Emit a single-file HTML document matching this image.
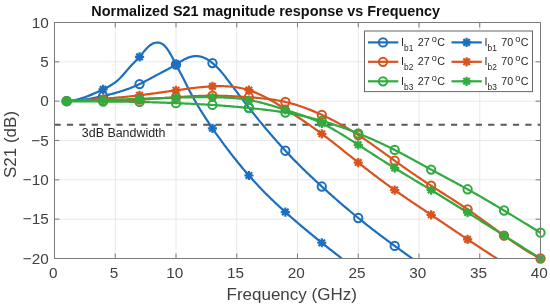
<!DOCTYPE html>
<html lang="en"><head><meta charset="utf-8"><title>Normalized S21 magnitude response vs Frequency</title>
<style>html,body{margin:0;padding:0;background:#fff;}body{width:550px;height:306px;overflow:hidden;}svg{display:block;}</style>
</head><body>
<svg width="550" height="306" viewBox="0 0 550 306" font-family="'Liberation Sans', sans-serif">
<rect width="550" height="306" fill="#ffffff"/>
<path d="M115.25 22.5V258.5M176.00 22.5V258.5M236.75 22.5V258.5M297.50 22.5V258.5M358.25 22.5V258.5M419.00 22.5V258.5M479.75 22.5V258.5M54.5 219.17H540.5M54.5 179.83H540.5M54.5 140.50H540.5M54.5 101.17H540.5M54.5 61.83H540.5" stroke="#e8e8e8" stroke-width="1" fill="none"/>
<defs><clipPath id="c"><rect x="54.5" y="22.5" width="486.0" height="236.5"/></clipPath></defs>
<path d="M54.5 124.77H540.5" stroke="#585858" stroke-width="2.2" stroke-dasharray="6.2 6.19" fill="none"/>
<text x="81.8" y="136.7" font-size="12.45" fill="#262626">3dB Bandwidth</text>
<g clip-path="url(#c)">
<path d="M66.65 101.17L67.86 101.14L69.08 101.11L70.30 101.06L71.51 101.00L72.73 100.93L73.94 100.84L75.16 100.74L76.37 100.64L77.59 100.52L78.80 100.39L80.02 100.25L81.23 100.10L82.45 99.94L83.66 99.77L84.88 99.59L86.09 99.41L87.31 99.21L88.52 99.01L89.74 98.80L90.95 98.58L92.17 98.35L93.38 98.12L94.60 97.88L95.81 97.64L97.03 97.39L98.24 97.13L99.46 96.87L100.67 96.60L101.89 96.33L103.10 96.05L104.32 95.77L105.53 95.49L106.75 95.20L107.96 94.90L109.18 94.60L110.39 94.29L111.61 93.98L112.82 93.66L114.04 93.33L115.25 93.00L116.47 92.66L117.68 92.30L118.90 91.94L120.11 91.57L121.33 91.20L122.54 90.81L123.76 90.41L124.97 90.00L126.19 89.58L127.40 89.14L128.62 88.70L129.83 88.24L131.05 87.77L132.26 87.29L133.48 86.79L134.69 86.28L135.91 85.76L137.12 85.22L138.34 84.67L139.55 84.10L140.77 83.51L141.98 82.91L143.20 82.30L144.41 81.68L145.63 81.04L146.84 80.40L148.06 79.75L149.27 79.10L150.49 78.44L151.70 77.78L152.92 77.12L154.13 76.46L155.35 75.80L156.56 75.15L157.78 74.50L158.99 73.86L160.21 73.22L161.42 72.58L162.64 71.95L163.85 71.31L165.07 70.67L166.28 70.03L167.50 69.38L168.71 68.73L169.93 68.06L171.14 67.38L172.36 66.69L173.57 65.98L174.79 65.25L176.00 64.51L177.22 63.74L178.43 62.97L179.65 62.19L180.86 61.43L182.08 60.69L183.29 59.97L184.51 59.30L185.72 58.69L186.94 58.13L188.15 57.64L189.37 57.21L190.58 56.85L191.80 56.56L193.01 56.34L194.23 56.18L195.44 56.10L196.66 56.09L197.87 56.16L199.09 56.30L200.30 56.51L201.52 56.81L202.73 57.20L203.95 57.66L205.16 58.22L206.38 58.85L207.59 59.57L208.81 60.35L210.02 61.21L211.24 62.12L212.45 63.09L213.67 64.12L214.88 65.20L216.10 66.33L217.31 67.52L218.53 68.78L219.74 70.09L220.96 71.47L222.17 72.91L223.39 74.39L224.60 75.91L225.82 77.47L227.03 79.05L228.25 80.66L229.46 82.27L230.68 83.88L231.89 85.49L233.11 87.10L234.32 88.71L235.54 90.32L236.75 91.92L237.97 93.52L239.18 95.11L240.40 96.70L241.61 98.29L242.83 99.87L244.04 101.45L245.26 103.02L246.47 104.58L247.69 106.14L248.90 107.70L250.12 109.24L251.33 110.78L252.55 112.31L253.76 113.84L254.98 115.36L256.19 116.87L257.41 118.37L258.62 119.87L259.84 121.36L261.05 122.84L262.27 124.31L263.48 125.78L264.70 127.23L265.91 128.68L267.13 130.12L268.34 131.56L269.56 132.98L270.77 134.40L271.99 135.81L273.20 137.21L274.42 138.60L275.63 139.98L276.85 141.36L278.06 142.72L279.28 144.08L280.49 145.43L281.71 146.77L282.92 148.10L284.14 149.42L285.35 150.73L286.57 152.03L287.78 153.32L289.00 154.60L290.21 155.88L291.43 157.14L292.64 158.40L293.86 159.65L295.07 160.89L296.29 162.12L297.50 163.35L298.72 164.57L299.93 165.78L301.15 166.98L302.36 168.17L303.58 169.36L304.79 170.55L306.01 171.72L307.22 172.89L308.44 174.06L309.65 175.22L310.87 176.37L312.08 177.52L313.30 178.66L314.51 179.79L315.73 180.93L316.94 182.05L318.16 183.18L319.37 184.30L320.59 185.41L321.80 186.52L323.02 187.63L324.23 188.73L325.45 189.83L326.66 190.92L327.88 192.02L329.09 193.10L330.31 194.19L331.52 195.27L332.74 196.34L333.95 197.41L335.17 198.48L336.38 199.55L337.60 200.61L338.81 201.66L340.03 202.71L341.24 203.76L342.46 204.80L343.67 205.84L344.89 206.88L346.10 207.91L347.32 208.94L348.53 209.96L349.75 210.98L350.96 211.99L352.18 213.00L353.39 214.01L354.61 215.01L355.82 216.01L357.04 217.00L358.25 217.99L359.47 218.97L360.68 219.95L361.90 220.92L363.11 221.90L364.33 222.86L365.54 223.83L366.76 224.78L367.97 225.74L369.19 226.69L370.40 227.64L371.62 228.58L372.83 229.52L374.05 230.46L375.26 231.39L376.48 232.32L377.69 233.25L378.91 234.17L380.12 235.09L381.34 236.01L382.55 236.92L383.77 237.83L384.98 238.74L386.20 239.65L387.41 240.55L388.63 241.45L389.84 242.35L391.06 243.24L392.27 244.13L393.49 245.03L394.70 245.91L395.92 246.80L397.13 247.68L398.35 248.57L399.56 249.44L400.78 250.32L401.99 251.20L403.21 252.07L404.42 252.95L405.64 253.82L406.85 254.69L408.07 255.56L409.28 256.42L410.50 257.29L411.71 258.15L412.93 259.02L414.14 259.88L415.36 260.74L416.57 261.60L417.79 262.46L419.00 263.32L420.22 264.17L421.43 265.03L422.65 265.89L423.86 266.74L425.08 267.60L426.29 268.45L427.51 269.31L428.72 270.16L429.94 271.02L431.15 271.87L432.37 272.73L433.58 273.58L434.80 274.44L436.01 275.29L437.23 276.15L438.44 277.00L439.66 277.86L440.87 278.72L442.09 279.57L443.30 280.43L444.52 281.29L445.73 282.15L446.95 283.01L448.16 283.87L449.38 284.73L450.59 285.59L451.81 286.46L453.02 287.32L454.24 288.19L455.45 289.06L456.67 289.93L457.88 290.80L459.10 291.67L460.31 292.55L461.53 293.42L462.74 294.30L463.96 295.18L465.17 296.06L466.39 296.95L467.60 297.83" stroke="#1b6fbe" stroke-width="2.2" fill="none" stroke-linejoin="round"/>
<path d="M66.65 101.17L67.86 101.08L69.08 100.97L70.30 100.82L71.51 100.65L72.73 100.46L73.94 100.23L75.16 99.99L76.37 99.71L77.59 99.42L78.80 99.10L80.02 98.76L81.23 98.40L82.45 98.02L83.66 97.63L84.88 97.21L86.09 96.78L87.31 96.33L88.52 95.86L89.74 95.38L90.95 94.89L92.17 94.38L93.38 93.86L94.60 93.33L95.81 92.79L97.03 92.24L98.24 91.68L99.46 91.11L100.67 90.53L101.89 89.95L103.10 89.37L104.32 88.77L105.53 88.17L106.75 87.55L107.96 86.91L109.18 86.25L110.39 85.54L111.61 84.80L112.82 84.02L114.04 83.18L115.25 82.29L116.47 81.33L117.68 80.31L118.90 79.21L120.11 78.04L121.33 76.78L122.54 75.46L123.76 74.08L124.97 72.68L126.19 71.26L127.40 69.84L128.62 68.45L129.83 67.10L131.05 65.81L132.26 64.55L133.48 63.32L134.69 62.09L135.91 60.85L137.12 59.58L138.34 58.26L139.55 56.88L140.77 55.42L141.98 53.91L143.20 52.40L144.41 50.91L145.63 49.50L146.84 48.18L148.06 46.99L149.27 45.92L150.49 44.99L151.70 44.21L152.92 43.58L154.13 43.10L155.35 42.77L156.56 42.59L157.78 42.56L158.99 42.68L160.21 42.97L161.42 43.45L162.64 44.15L163.85 45.08L165.07 46.26L166.28 47.67L167.50 49.29L168.71 51.11L169.93 53.10L171.14 55.24L172.36 57.48L173.57 59.80L174.79 62.16L176.00 64.51L177.22 66.83L178.43 69.13L179.65 71.42L180.86 73.73L182.08 76.07L183.29 78.46L184.51 80.87L185.72 83.30L186.94 85.72L188.15 88.11L189.37 90.45L190.58 92.75L191.80 95.01L193.01 97.23L194.23 99.40L195.44 101.53L196.66 103.63L197.87 105.69L199.09 107.72L200.30 109.72L201.52 111.68L202.73 113.62L203.95 115.53L205.16 117.42L206.38 119.28L207.59 121.12L208.81 122.94L210.02 124.75L211.24 126.53L212.45 128.31L213.67 130.07L214.88 131.81L216.10 133.55L217.31 135.27L218.53 136.98L219.74 138.67L220.96 140.36L222.17 142.03L223.39 143.68L224.60 145.33L225.82 146.96L227.03 148.58L228.25 150.18L229.46 151.78L230.68 153.36L231.89 154.92L233.11 156.48L234.32 158.02L235.54 159.55L236.75 161.06L237.97 162.57L239.18 164.05L240.40 165.53L241.61 167.00L242.83 168.45L244.04 169.88L245.26 171.31L246.47 172.72L247.69 174.12L248.90 175.51L250.12 176.88L251.33 178.24L252.55 179.59L253.76 180.92L254.98 182.25L256.19 183.56L257.41 184.86L258.62 186.15L259.84 187.43L261.05 188.69L262.27 189.95L263.48 191.19L264.70 192.43L265.91 193.65L267.13 194.87L268.34 196.08L269.56 197.27L270.77 198.46L271.99 199.64L273.20 200.81L274.42 201.97L275.63 203.12L276.85 204.27L278.06 205.41L279.28 206.54L280.49 207.66L281.71 208.78L282.92 209.89L284.14 210.99L285.35 212.09L286.57 213.18L287.78 214.26L289.00 215.34L290.21 216.41L291.43 217.48L292.64 218.54L293.86 219.60L295.07 220.65L296.29 221.70L297.50 222.74L298.72 223.78L299.93 224.81L301.15 225.84L302.36 226.86L303.58 227.88L304.79 228.90L306.01 229.91L307.22 230.92L308.44 231.92L309.65 232.92L310.87 233.92L312.08 234.91L313.30 235.90L314.51 236.89L315.73 237.88L316.94 238.86L318.16 239.84L319.37 240.82L320.59 241.79L321.80 242.77L323.02 243.74L324.23 244.71L325.45 245.68L326.66 246.64L327.88 247.60L329.09 248.57L330.31 249.53L331.52 250.48L332.74 251.44L333.95 252.39L335.17 253.35L336.38 254.30L337.60 255.24L338.81 256.19L340.03 257.14L341.24 258.08L342.46 259.02L343.67 259.96L344.89 260.90L346.10 261.83L347.32 262.77L348.53 263.70L349.75 264.63L350.96 265.55L352.18 266.48L353.39 267.41L354.61 268.33L355.82 269.25L357.04 270.17L358.25 271.09L359.47 272.00L360.68 272.92L361.90 273.83L363.11 274.74L364.33 275.65L365.54 276.56L366.76 277.46L367.97 278.36L369.19 279.27L370.40 280.17L371.62 281.07L372.83 281.96L374.05 282.86L375.26 283.75L376.48 284.64L377.69 285.53L378.91 286.42L380.12 287.31L381.34 288.20L382.55 289.08L383.77 289.96L384.98 290.84L386.20 291.72L387.41 292.60L388.63 293.48L389.84 294.35L391.06 295.22L392.27 296.10L393.49 296.96L394.70 297.83" stroke="#1b6fbe" stroke-width="2.2" fill="none" stroke-linejoin="round"/>
<path d="M66.65 101.17L67.86 101.13L69.08 101.10L70.30 101.06L71.51 101.03L72.73 101.00L73.94 100.97L75.16 100.95L76.37 100.92L77.59 100.90L78.80 100.87L80.02 100.85L81.23 100.83L82.45 100.81L83.66 100.79L84.88 100.77L86.09 100.75L87.31 100.74L88.52 100.72L89.74 100.70L90.95 100.69L92.17 100.67L93.38 100.66L94.60 100.64L95.81 100.63L97.03 100.61L98.24 100.60L99.46 100.58L100.67 100.57L101.89 100.55L103.10 100.54L104.32 100.52L105.53 100.51L106.75 100.49L107.96 100.47L109.18 100.45L110.39 100.43L111.61 100.41L112.82 100.39L114.04 100.37L115.25 100.35L116.47 100.33L117.68 100.30L118.90 100.28L120.11 100.25L121.33 100.22L122.54 100.19L123.76 100.16L124.97 100.13L126.19 100.10L127.40 100.06L128.62 100.02L129.83 99.98L131.05 99.94L132.26 99.90L133.48 99.85L134.69 99.81L135.91 99.76L137.12 99.70L138.34 99.65L139.55 99.59L140.77 99.53L141.98 99.47L143.20 99.41L144.41 99.34L145.63 99.28L146.84 99.21L148.06 99.13L149.27 99.06L150.49 98.99L151.70 98.91L152.92 98.83L154.13 98.75L155.35 98.67L156.56 98.59L157.78 98.51L158.99 98.43L160.21 98.34L161.42 98.26L162.64 98.17L163.85 98.09L165.07 98.00L166.28 97.92L167.50 97.83L168.71 97.74L169.93 97.66L171.14 97.57L172.36 97.49L173.57 97.40L174.79 97.32L176.00 97.23L177.22 97.15L178.43 97.07L179.65 96.99L180.86 96.91L182.08 96.83L183.29 96.75L184.51 96.67L185.72 96.60L186.94 96.53L188.15 96.46L189.37 96.39L190.58 96.32L191.80 96.26L193.01 96.20L194.23 96.14L195.44 96.08L196.66 96.03L197.87 95.98L199.09 95.93L200.30 95.89L201.52 95.85L202.73 95.81L203.95 95.78L205.16 95.75L206.38 95.72L207.59 95.70L208.81 95.68L210.02 95.67L211.24 95.66L212.45 95.66L213.67 95.66L214.88 95.67L216.10 95.68L217.31 95.69L218.53 95.71L219.74 95.74L220.96 95.76L222.17 95.79L223.39 95.83L224.60 95.87L225.82 95.91L227.03 95.96L228.25 96.01L229.46 96.06L230.68 96.11L231.89 96.17L233.11 96.23L234.32 96.30L235.54 96.36L236.75 96.43L237.97 96.50L239.18 96.58L240.40 96.65L241.61 96.73L242.83 96.81L244.04 96.89L245.26 96.98L246.47 97.06L247.69 97.15L248.90 97.23L250.12 97.32L251.33 97.41L252.55 97.50L253.76 97.60L254.98 97.69L256.19 97.79L257.41 97.90L258.62 98.00L259.84 98.11L261.05 98.23L262.27 98.35L263.48 98.47L264.70 98.60L265.91 98.74L267.13 98.88L268.34 99.03L269.56 99.18L270.77 99.34L271.99 99.51L273.20 99.69L274.42 99.87L275.63 100.06L276.85 100.27L278.06 100.48L279.28 100.70L280.49 100.93L281.71 101.17L282.92 101.42L284.14 101.68L285.35 101.95L286.57 102.24L287.78 102.53L289.00 102.84L290.21 103.16L291.43 103.49L292.64 103.83L293.86 104.18L295.07 104.54L296.29 104.91L297.50 105.29L298.72 105.69L299.93 106.09L301.15 106.50L302.36 106.92L303.58 107.35L304.79 107.79L306.01 108.24L307.22 108.70L308.44 109.17L309.65 109.64L310.87 110.13L312.08 110.62L313.30 111.12L314.51 111.63L315.73 112.15L316.94 112.68L318.16 113.21L319.37 113.75L320.59 114.30L321.80 114.85L323.02 115.42L324.23 115.99L325.45 116.56L326.66 117.15L327.88 117.74L329.09 118.34L330.31 118.95L331.52 119.56L332.74 120.18L333.95 120.81L335.17 121.45L336.38 122.09L337.60 122.74L338.81 123.40L340.03 124.07L341.24 124.74L342.46 125.42L343.67 126.11L344.89 126.81L346.10 127.51L347.32 128.22L348.53 128.94L349.75 129.67L350.96 130.41L352.18 131.15L353.39 131.91L354.61 132.67L355.82 133.43L357.04 134.21L358.25 134.99L359.47 135.79L360.68 136.59L361.90 137.39L363.11 138.21L364.33 139.03L365.54 139.86L366.76 140.69L367.97 141.53L369.19 142.37L370.40 143.22L371.62 144.08L372.83 144.94L374.05 145.80L375.26 146.66L376.48 147.53L377.69 148.41L378.91 149.28L380.12 150.16L381.34 151.03L382.55 151.91L383.77 152.80L384.98 153.68L386.20 154.56L387.41 155.44L388.63 156.32L389.84 157.21L391.06 158.09L392.27 158.96L393.49 159.84L394.70 160.72L395.92 161.59L397.13 162.46L398.35 163.33L399.56 164.19L400.78 165.06L401.99 165.92L403.21 166.78L404.42 167.63L405.64 168.48L406.85 169.33L408.07 170.18L409.28 171.03L410.50 171.87L411.71 172.71L412.93 173.54L414.14 174.38L415.36 175.21L416.57 176.04L417.79 176.86L419.00 177.68L420.22 178.50L421.43 179.32L422.65 180.13L423.86 180.94L425.08 181.75L426.29 182.55L427.51 183.35L428.72 184.15L429.94 184.94L431.15 185.73L432.37 186.52L433.58 187.31L434.80 188.09L436.01 188.87L437.23 189.64L438.44 190.42L439.66 191.20L440.87 191.97L442.09 192.74L443.30 193.51L444.52 194.29L445.73 195.06L446.95 195.83L448.16 196.60L449.38 197.38L450.59 198.15L451.81 198.93L453.02 199.71L454.24 200.49L455.45 201.28L456.67 202.06L457.88 202.85L459.10 203.65L460.31 204.45L461.53 205.25L462.74 206.06L463.96 206.87L465.17 207.68L466.39 208.51L467.60 209.33L468.82 210.17L470.03 211.01L471.25 211.85L472.46 212.70L473.68 213.56L474.89 214.41L476.11 215.28L477.32 216.14L478.54 217.02L479.75 217.89L480.97 218.77L482.18 219.64L483.40 220.53L484.61 221.41L485.83 222.29L487.04 223.18L488.26 224.07L489.47 224.95L490.69 225.84L491.90 226.73L493.12 227.62L494.33 228.50L495.55 229.39L496.76 230.27L497.98 231.15L499.19 232.03L500.41 232.91L501.62 233.79L502.84 234.66L504.05 235.53L505.27 236.40L506.48 237.26L507.70 238.11L508.91 238.97L510.13 239.82L511.34 240.66L512.56 241.50L513.77 242.33L514.99 243.15L516.20 243.97L517.42 244.78L518.63 245.59L519.85 246.39L521.06 247.18L522.28 247.96L523.49 248.73L524.71 249.50L525.92 250.25L527.14 251.00L528.35 251.74L529.57 252.46L530.78 253.18L532.00 253.88L533.21 254.58L534.43 255.26L535.64 255.93L536.86 256.59L538.07 257.24L539.29 257.88L540.50 258.50" stroke="#d9531e" stroke-width="2.2" fill="none" stroke-linejoin="round"/>
<path d="M66.65 101.17L67.86 101.10L69.08 101.03L70.30 100.96L71.51 100.89L72.73 100.82L73.94 100.75L75.16 100.68L76.37 100.61L77.59 100.54L78.80 100.46L80.02 100.39L81.23 100.32L82.45 100.24L83.66 100.16L84.88 100.09L86.09 100.01L87.31 99.93L88.52 99.85L89.74 99.77L90.95 99.69L92.17 99.60L93.38 99.52L94.60 99.43L95.81 99.35L97.03 99.26L98.24 99.17L99.46 99.08L100.67 98.99L101.89 98.90L103.10 98.81L104.32 98.71L105.53 98.62L106.75 98.52L107.96 98.42L109.18 98.32L110.39 98.22L111.61 98.11L112.82 98.01L114.04 97.90L115.25 97.80L116.47 97.69L117.68 97.57L118.90 97.46L120.11 97.35L121.33 97.23L122.54 97.11L123.76 96.99L124.97 96.87L126.19 96.75L127.40 96.62L128.62 96.50L129.83 96.37L131.05 96.24L132.26 96.11L133.48 95.97L134.69 95.83L135.91 95.70L137.12 95.55L138.34 95.41L139.55 95.27L140.77 95.12L141.98 94.97L143.20 94.82L144.41 94.67L145.63 94.51L146.84 94.35L148.06 94.20L149.27 94.04L150.49 93.88L151.70 93.71L152.92 93.55L154.13 93.38L155.35 93.22L156.56 93.05L157.78 92.88L158.99 92.71L160.21 92.54L161.42 92.37L162.64 92.20L163.85 92.03L165.07 91.86L166.28 91.69L167.50 91.52L168.71 91.34L169.93 91.17L171.14 91.00L172.36 90.83L173.57 90.65L174.79 90.48L176.00 90.31L177.22 90.14L178.43 89.97L179.65 89.80L180.86 89.63L182.08 89.47L183.29 89.30L184.51 89.14L185.72 88.98L186.94 88.82L188.15 88.66L189.37 88.51L190.58 88.36L191.80 88.21L193.01 88.06L194.23 87.92L195.44 87.78L196.66 87.65L197.87 87.52L199.09 87.40L200.30 87.28L201.52 87.16L202.73 87.05L203.95 86.95L205.16 86.85L206.38 86.75L207.59 86.66L208.81 86.58L210.02 86.51L211.24 86.44L212.45 86.38L213.67 86.32L214.88 86.28L216.10 86.24L217.31 86.21L218.53 86.18L219.74 86.17L220.96 86.17L222.17 86.18L223.39 86.20L224.60 86.23L225.82 86.28L227.03 86.33L228.25 86.40L229.46 86.49L230.68 86.59L231.89 86.70L233.11 86.83L234.32 86.98L235.54 87.14L236.75 87.32L237.97 87.51L239.18 87.73L240.40 87.96L241.61 88.21L242.83 88.48L244.04 88.77L245.26 89.09L246.47 89.42L247.69 89.78L248.90 90.15L250.12 90.55L251.33 90.98L252.55 91.42L253.76 91.88L254.98 92.37L256.19 92.87L257.41 93.40L258.62 93.94L259.84 94.49L261.05 95.07L262.27 95.66L263.48 96.27L264.70 96.89L265.91 97.52L267.13 98.17L268.34 98.83L269.56 99.50L270.77 100.19L271.99 100.88L273.20 101.59L274.42 102.30L275.63 103.03L276.85 103.76L278.06 104.49L279.28 105.24L280.49 105.99L281.71 106.74L282.92 107.50L284.14 108.27L285.35 109.03L286.57 109.80L287.78 110.57L289.00 111.35L290.21 112.13L291.43 112.91L292.64 113.69L293.86 114.48L295.07 115.27L296.29 116.06L297.50 116.86L298.72 117.66L299.93 118.47L301.15 119.28L302.36 120.09L303.58 120.91L304.79 121.74L306.01 122.56L307.22 123.40L308.44 124.23L309.65 125.08L310.87 125.93L312.08 126.78L313.30 127.64L314.51 128.50L315.73 129.37L316.94 130.25L318.16 131.13L319.37 132.02L320.59 132.91L321.80 133.81L323.02 134.72L324.23 135.63L325.45 136.55L326.66 137.48L327.88 138.41L329.09 139.35L330.31 140.29L331.52 141.23L332.74 142.18L333.95 143.13L335.17 144.09L336.38 145.05L337.60 146.01L338.81 146.98L340.03 147.94L341.24 148.91L342.46 149.88L343.67 150.86L344.89 151.83L346.10 152.81L347.32 153.78L348.53 154.76L349.75 155.73L350.96 156.71L352.18 157.68L353.39 158.65L354.61 159.62L355.82 160.59L357.04 161.56L358.25 162.53L359.47 163.49L360.68 164.45L361.90 165.41L363.11 166.36L364.33 167.32L365.54 168.26L366.76 169.21L367.97 170.16L369.19 171.10L370.40 172.03L371.62 172.97L372.83 173.90L374.05 174.83L375.26 175.75L376.48 176.67L377.69 177.59L378.91 178.51L380.12 179.42L381.34 180.33L382.55 181.23L383.77 182.13L384.98 183.03L386.20 183.92L387.41 184.81L388.63 185.69L389.84 186.58L391.06 187.45L392.27 188.33L393.49 189.19L394.70 190.06L395.92 190.92L397.13 191.78L398.35 192.63L399.56 193.48L400.78 194.33L401.99 195.17L403.21 196.01L404.42 196.84L405.64 197.68L406.85 198.51L408.07 199.34L409.28 200.16L410.50 200.99L411.71 201.81L412.93 202.63L414.14 203.45L415.36 204.27L416.57 205.08L417.79 205.90L419.00 206.71L420.22 207.52L421.43 208.34L422.65 209.15L423.86 209.96L425.08 210.77L426.29 211.59L427.51 212.40L428.72 213.21L429.94 214.03L431.15 214.84L432.37 215.66L433.58 216.47L434.80 217.29L436.01 218.11L437.23 218.93L438.44 219.74L439.66 220.56L440.87 221.39L442.09 222.21L443.30 223.03L444.52 223.85L445.73 224.67L446.95 225.49L448.16 226.31L449.38 227.13L450.59 227.95L451.81 228.77L453.02 229.59L454.24 230.41L455.45 231.23L456.67 232.05L457.88 232.87L459.10 233.69L460.31 234.51L461.53 235.32L462.74 236.14L463.96 236.95L465.17 237.76L466.39 238.57L467.60 239.38L468.82 240.19L470.03 241.00L471.25 241.81L472.46 242.61L473.68 243.42L474.89 244.22L476.11 245.02L477.32 245.82L478.54 246.62L479.75 247.42L480.97 248.21L482.18 249.01L483.40 249.81L484.61 250.60L485.83 251.39L487.04 252.19L488.26 252.98L489.47 253.77L490.69 254.56L491.90 255.35L493.12 256.14L494.33 256.93L495.55 257.72L496.76 258.50L497.98 259.29L499.19 260.08L500.41 260.86L501.62 261.65L502.84 262.43L504.05 263.22L505.27 264.00L506.48 264.79L507.70 265.57L508.91 266.36L510.13 267.14L511.34 267.93L512.56 268.71L513.77 269.50L514.99 270.28L516.20 271.06L517.42 271.85L518.63 272.63L519.85 273.42L521.06 274.20L522.28 274.99L523.49 275.77L524.71 276.56L525.92 277.34L527.14 278.13L528.35 278.92L529.57 279.71L530.78 280.49L532.00 281.28L533.21 282.07L534.43 282.86L535.64 283.65L536.86 284.44L538.07 285.23L539.29 286.03L540.50 286.82" stroke="#d9531e" stroke-width="2.2" fill="none" stroke-linejoin="round"/>
<path d="M66.65 101.17L67.86 101.19L69.08 101.22L70.30 101.24L71.51 101.26L72.73 101.28L73.94 101.30L75.16 101.32L76.37 101.33L77.59 101.35L78.80 101.37L80.02 101.38L81.23 101.40L82.45 101.41L83.66 101.42L84.88 101.43L86.09 101.44L87.31 101.45L88.52 101.47L89.74 101.47L90.95 101.48L92.17 101.49L93.38 101.50L94.60 101.51L95.81 101.52L97.03 101.52L98.24 101.53L99.46 101.54L100.67 101.55L101.89 101.55L103.10 101.56L104.32 101.57L105.53 101.57L106.75 101.58L107.96 101.59L109.18 101.60L110.39 101.60L111.61 101.61L112.82 101.62L114.04 101.63L115.25 101.64L116.47 101.65L117.68 101.65L118.90 101.67L120.11 101.68L121.33 101.69L122.54 101.70L123.76 101.71L124.97 101.72L126.19 101.74L127.40 101.75L128.62 101.77L129.83 101.79L131.05 101.80L132.26 101.82L133.48 101.84L134.69 101.86L135.91 101.88L137.12 101.90L138.34 101.93L139.55 101.95L140.77 101.98L141.98 102.01L143.20 102.04L144.41 102.06L145.63 102.10L146.84 102.13L148.06 102.16L149.27 102.19L150.49 102.23L151.70 102.27L152.92 102.30L154.13 102.34L155.35 102.38L156.56 102.42L157.78 102.46L158.99 102.50L160.21 102.54L161.42 102.58L162.64 102.63L163.85 102.67L165.07 102.71L166.28 102.76L167.50 102.80L168.71 102.85L169.93 102.90L171.14 102.94L172.36 102.99L173.57 103.04L174.79 103.09L176.00 103.13L177.22 103.18L178.43 103.23L179.65 103.28L180.86 103.33L182.08 103.38L183.29 103.43L184.51 103.48L185.72 103.53L186.94 103.59L188.15 103.64L189.37 103.69L190.58 103.75L191.80 103.81L193.01 103.86L194.23 103.92L195.44 103.98L196.66 104.04L197.87 104.10L199.09 104.16L200.30 104.23L201.52 104.29L202.73 104.36L203.95 104.43L205.16 104.49L206.38 104.57L207.59 104.64L208.81 104.71L210.02 104.79L211.24 104.86L212.45 104.94L213.67 105.02L214.88 105.11L216.10 105.19L217.31 105.28L218.53 105.36L219.74 105.45L220.96 105.54L222.17 105.64L223.39 105.73L224.60 105.83L225.82 105.92L227.03 106.02L228.25 106.12L229.46 106.22L230.68 106.33L231.89 106.43L233.11 106.54L234.32 106.64L235.54 106.75L236.75 106.86L237.97 106.97L239.18 107.08L240.40 107.19L241.61 107.31L242.83 107.42L244.04 107.54L245.26 107.65L246.47 107.77L247.69 107.89L248.90 108.01L250.12 108.13L251.33 108.25L252.55 108.38L253.76 108.50L254.98 108.62L256.19 108.75L257.41 108.88L258.62 109.01L259.84 109.14L261.05 109.27L262.27 109.41L263.48 109.55L264.70 109.69L265.91 109.83L267.13 109.98L268.34 110.13L269.56 110.28L270.77 110.43L271.99 110.59L273.20 110.75L274.42 110.92L275.63 111.09L276.85 111.26L278.06 111.43L279.28 111.61L280.49 111.80L281.71 111.98L282.92 112.18L284.14 112.37L285.35 112.57L286.57 112.78L287.78 112.99L289.00 113.20L290.21 113.42L291.43 113.65L292.64 113.88L293.86 114.11L295.07 114.35L296.29 114.60L297.50 114.84L298.72 115.10L299.93 115.35L301.15 115.62L302.36 115.89L303.58 116.16L304.79 116.44L306.01 116.72L307.22 117.00L308.44 117.30L309.65 117.59L310.87 117.90L312.08 118.20L313.30 118.51L314.51 118.83L315.73 119.15L316.94 119.48L318.16 119.81L319.37 120.15L320.59 120.49L321.80 120.83L323.02 121.18L324.23 121.54L325.45 121.90L326.66 122.27L327.88 122.64L329.09 123.02L330.31 123.40L331.52 123.78L332.74 124.17L333.95 124.57L335.17 124.97L336.38 125.37L337.60 125.78L338.81 126.19L340.03 126.61L341.24 127.04L342.46 127.46L343.67 127.89L344.89 128.33L346.10 128.77L347.32 129.22L348.53 129.67L349.75 130.12L350.96 130.58L352.18 131.04L353.39 131.51L354.61 131.98L355.82 132.46L357.04 132.94L358.25 133.42L359.47 133.91L360.68 134.40L361.90 134.90L363.11 135.40L364.33 135.90L365.54 136.41L366.76 136.92L367.97 137.44L369.19 137.96L370.40 138.49L371.62 139.02L372.83 139.55L374.05 140.09L375.26 140.64L376.48 141.18L377.69 141.74L378.91 142.29L380.12 142.85L381.34 143.42L382.55 143.99L383.77 144.56L384.98 145.14L386.20 145.73L387.41 146.31L388.63 146.91L389.84 147.50L391.06 148.11L392.27 148.71L393.49 149.32L394.70 149.94L395.92 150.56L397.13 151.19L398.35 151.81L399.56 152.45L400.78 153.08L401.99 153.73L403.21 154.37L404.42 155.02L405.64 155.67L406.85 156.32L408.07 156.97L409.28 157.63L410.50 158.29L411.71 158.95L412.93 159.62L414.14 160.28L415.36 160.95L416.57 161.61L417.79 162.28L419.00 162.95L420.22 163.62L421.43 164.28L422.65 164.95L423.86 165.62L425.08 166.29L426.29 166.95L427.51 167.62L428.72 168.28L429.94 168.95L431.15 169.61L432.37 170.27L433.58 170.92L434.80 171.58L436.01 172.23L437.23 172.89L438.44 173.54L439.66 174.19L440.87 174.84L442.09 175.49L443.30 176.14L444.52 176.79L445.73 177.44L446.95 178.09L448.16 178.74L449.38 179.39L450.59 180.04L451.81 180.69L453.02 181.34L454.24 181.99L455.45 182.64L456.67 183.30L457.88 183.95L459.10 184.61L460.31 185.27L461.53 185.93L462.74 186.60L463.96 187.26L465.17 187.93L466.39 188.60L467.60 189.27L468.82 189.95L470.03 190.63L471.25 191.31L472.46 191.99L473.68 192.68L474.89 193.37L476.11 194.06L477.32 194.75L478.54 195.45L479.75 196.15L480.97 196.85L482.18 197.55L483.40 198.26L484.61 198.97L485.83 199.68L487.04 200.39L488.26 201.10L489.47 201.81L490.69 202.53L491.90 203.25L493.12 203.97L494.33 204.69L495.55 205.41L496.76 206.14L497.98 206.86L499.19 207.59L500.41 208.32L501.62 209.05L502.84 209.78L504.05 210.51L505.27 211.25L506.48 211.98L507.70 212.72L508.91 213.45L510.13 214.19L511.34 214.93L512.56 215.66L513.77 216.40L514.99 217.14L516.20 217.88L517.42 218.62L518.63 219.36L519.85 220.10L521.06 220.85L522.28 221.59L523.49 222.33L524.71 223.07L525.92 223.81L527.14 224.55L528.35 225.30L529.57 226.04L530.78 226.78L532.00 227.52L533.21 228.26L534.43 229.00L535.64 229.74L536.86 230.48L538.07 231.22L539.29 231.96L540.50 232.70" stroke="#2fab3f" stroke-width="2.2" fill="none" stroke-linejoin="round"/>
<path d="M66.65 101.17L67.86 101.13L69.08 101.08L70.30 101.04L71.51 101.00L72.73 100.96L73.94 100.92L75.16 100.88L76.37 100.84L77.59 100.80L78.80 100.76L80.02 100.72L81.23 100.68L82.45 100.64L83.66 100.60L84.88 100.57L86.09 100.53L87.31 100.49L88.52 100.45L89.74 100.41L90.95 100.37L92.17 100.33L93.38 100.29L94.60 100.26L95.81 100.22L97.03 100.18L98.24 100.14L99.46 100.10L100.67 100.06L101.89 100.02L103.10 99.99L104.32 99.95L105.53 99.91L106.75 99.87L107.96 99.83L109.18 99.79L110.39 99.76L111.61 99.72L112.82 99.68L114.04 99.64L115.25 99.60L116.47 99.56L117.68 99.52L118.90 99.49L120.11 99.45L121.33 99.41L122.54 99.37L123.76 99.33L124.97 99.29L126.19 99.25L127.40 99.21L128.62 99.17L129.83 99.13L131.05 99.09L132.26 99.05L133.48 99.01L134.69 98.97L135.91 98.93L137.12 98.89L138.34 98.85L139.55 98.81L140.77 98.77L141.98 98.72L143.20 98.68L144.41 98.64L145.63 98.60L146.84 98.56L148.06 98.51L149.27 98.47L150.49 98.43L151.70 98.39L152.92 98.35L154.13 98.31L155.35 98.26L156.56 98.22L157.78 98.18L158.99 98.14L160.21 98.10L161.42 98.06L162.64 98.02L163.85 97.98L165.07 97.95L166.28 97.91L167.50 97.87L168.71 97.83L169.93 97.80L171.14 97.76L172.36 97.73L173.57 97.69L174.79 97.66L176.00 97.63L177.22 97.59L178.43 97.56L179.65 97.53L180.86 97.50L182.08 97.48L183.29 97.45L184.51 97.42L185.72 97.40L186.94 97.37L188.15 97.35L189.37 97.33L190.58 97.31L191.80 97.29L193.01 97.27L194.23 97.26L195.44 97.24L196.66 97.23L197.87 97.22L199.09 97.21L200.30 97.20L201.52 97.20L202.73 97.19L203.95 97.19L205.16 97.19L206.38 97.19L207.59 97.20L208.81 97.20L210.02 97.21L211.24 97.22L212.45 97.23L213.67 97.25L214.88 97.26L216.10 97.28L217.31 97.31L218.53 97.33L219.74 97.36L220.96 97.40L222.17 97.44L223.39 97.48L224.60 97.53L225.82 97.58L227.03 97.64L228.25 97.70L229.46 97.78L230.68 97.85L231.89 97.94L233.11 98.03L234.32 98.13L235.54 98.23L236.75 98.35L237.97 98.47L239.18 98.60L240.40 98.74L241.61 98.89L242.83 99.04L244.04 99.21L245.26 99.39L246.47 99.58L247.69 99.78L248.90 99.99L250.12 100.21L251.33 100.44L252.55 100.68L253.76 100.93L254.98 101.20L256.19 101.47L257.41 101.75L258.62 102.04L259.84 102.33L261.05 102.64L262.27 102.95L263.48 103.27L264.70 103.60L265.91 103.93L267.13 104.27L268.34 104.61L269.56 104.96L270.77 105.32L271.99 105.68L273.20 106.04L274.42 106.41L275.63 106.78L276.85 107.15L278.06 107.53L279.28 107.91L280.49 108.29L281.71 108.67L282.92 109.05L284.14 109.44L285.35 109.82L286.57 110.20L287.78 110.59L289.00 110.98L290.21 111.36L291.43 111.75L292.64 112.14L293.86 112.54L295.07 112.94L296.29 113.34L297.50 113.74L298.72 114.15L299.93 114.56L301.15 114.98L302.36 115.41L303.58 115.84L304.79 116.28L306.01 116.72L307.22 117.18L308.44 117.64L309.65 118.11L310.87 118.58L312.08 119.07L313.30 119.57L314.51 120.07L315.73 120.59L316.94 121.12L318.16 121.66L319.37 122.21L320.59 122.77L321.80 123.35L323.02 123.94L324.23 124.54L325.45 125.16L326.66 125.78L327.88 126.42L329.09 127.07L330.31 127.73L331.52 128.40L332.74 129.08L333.95 129.77L335.17 130.47L336.38 131.17L337.60 131.89L338.81 132.61L340.03 133.34L341.24 134.07L342.46 134.81L343.67 135.56L344.89 136.31L346.10 137.07L347.32 137.83L348.53 138.60L349.75 139.37L350.96 140.14L352.18 140.92L353.39 141.70L354.61 142.48L355.82 143.26L357.04 144.04L358.25 144.83L359.47 145.61L360.68 146.39L361.90 147.18L363.11 147.96L364.33 148.74L365.54 149.53L366.76 150.31L367.97 151.09L369.19 151.87L370.40 152.66L371.62 153.44L372.83 154.22L374.05 155.00L375.26 155.77L376.48 156.55L377.69 157.33L378.91 158.10L380.12 158.88L381.34 159.65L382.55 160.42L383.77 161.19L384.98 161.96L386.20 162.72L387.41 163.49L388.63 164.25L389.84 165.01L391.06 165.77L392.27 166.53L393.49 167.28L394.70 168.03L395.92 168.78L397.13 169.53L398.35 170.28L399.56 171.02L400.78 171.76L401.99 172.50L403.21 173.24L404.42 173.98L405.64 174.71L406.85 175.45L408.07 176.18L409.28 176.91L410.50 177.65L411.71 178.38L412.93 179.11L414.14 179.84L415.36 180.57L416.57 181.29L417.79 182.02L419.00 182.75L420.22 183.48L421.43 184.21L422.65 184.94L423.86 185.67L425.08 186.40L426.29 187.13L427.51 187.86L428.72 188.59L429.94 189.33L431.15 190.06L432.37 190.80L433.58 191.53L434.80 192.27L436.01 193.01L437.23 193.75L438.44 194.49L439.66 195.23L440.87 195.98L442.09 196.72L443.30 197.47L444.52 198.22L445.73 198.96L446.95 199.71L448.16 200.46L449.38 201.21L450.59 201.96L451.81 202.72L453.02 203.47L454.24 204.22L455.45 204.98L456.67 205.73L457.88 206.49L459.10 207.25L460.31 208.00L461.53 208.76L462.74 209.52L463.96 210.28L465.17 211.04L466.39 211.80L467.60 212.56L468.82 213.32L470.03 214.08L471.25 214.84L472.46 215.61L473.68 216.37L474.89 217.13L476.11 217.90L477.32 218.66L478.54 219.42L479.75 220.19L480.97 220.95L482.18 221.72L483.40 222.49L484.61 223.25L485.83 224.02L487.04 224.78L488.26 225.55L489.47 226.32L490.69 227.08L491.90 227.85L493.12 228.62L494.33 229.39L495.55 230.15L496.76 230.92L497.98 231.69L499.19 232.46L500.41 233.23L501.62 233.99L502.84 234.76L504.05 235.53L505.27 236.30L506.48 237.07L507.70 237.83L508.91 238.60L510.13 239.37L511.34 240.14L512.56 240.90L513.77 241.67L514.99 242.44L516.20 243.21L517.42 243.97L518.63 244.74L519.85 245.51L521.06 246.27L522.28 247.04L523.49 247.81L524.71 248.57L525.92 249.34L527.14 250.10L528.35 250.87L529.57 251.63L530.78 252.40L532.00 253.16L533.21 253.93L534.43 254.69L535.64 255.45L536.86 256.22L538.07 256.98L539.29 257.74L540.50 258.50" stroke="#2fab3f" stroke-width="2.2" fill="none" stroke-linejoin="round"/>
</g>
<circle cx="66.65" cy="101.17" r="4.15" stroke="#1b6fbe" stroke-width="2.0" fill="none"/>
<circle cx="103.10" cy="96.05" r="4.15" stroke="#1b6fbe" stroke-width="2.0" fill="none"/>
<circle cx="139.55" cy="84.10" r="4.15" stroke="#1b6fbe" stroke-width="2.0" fill="none"/>
<circle cx="176.00" cy="64.51" r="4.15" stroke="#1b6fbe" stroke-width="2.0" fill="none"/>
<circle cx="212.45" cy="63.09" r="4.15" stroke="#1b6fbe" stroke-width="2.0" fill="none"/>
<circle cx="248.90" cy="107.70" r="4.15" stroke="#1b6fbe" stroke-width="2.0" fill="none"/>
<circle cx="285.35" cy="150.73" r="4.15" stroke="#1b6fbe" stroke-width="2.0" fill="none"/>
<circle cx="321.80" cy="186.52" r="4.15" stroke="#1b6fbe" stroke-width="2.0" fill="none"/>
<circle cx="358.25" cy="217.99" r="4.15" stroke="#1b6fbe" stroke-width="2.0" fill="none"/>
<circle cx="394.70" cy="245.91" r="4.15" stroke="#1b6fbe" stroke-width="2.0" fill="none"/>
<path d="M62.05 101.17L71.25 101.17M63.40 97.91L69.90 104.42M66.65 96.57L66.65 105.77M69.90 97.91L63.40 104.42" stroke="#1b6fbe" stroke-width="2.2" fill="none"/>
<path d="M98.50 89.37L107.70 89.37M99.85 86.11L106.35 92.62M103.10 84.77L103.10 93.97M106.35 86.11L99.85 92.62" stroke="#1b6fbe" stroke-width="2.2" fill="none"/>
<path d="M134.95 56.88L144.15 56.88M136.30 53.62L142.80 60.13M139.55 52.28L139.55 61.48M142.80 53.62L136.30 60.13" stroke="#1b6fbe" stroke-width="2.2" fill="none"/>
<path d="M171.40 64.51L180.60 64.51M172.75 61.26L179.25 67.76M176.00 59.91L176.00 69.11M179.25 61.26L172.75 67.76" stroke="#1b6fbe" stroke-width="2.2" fill="none"/>
<path d="M207.85 128.31L217.05 128.31M209.20 125.05L215.70 131.56M212.45 123.71L212.45 132.91M215.70 125.05L209.20 131.56" stroke="#1b6fbe" stroke-width="2.2" fill="none"/>
<path d="M244.30 175.51L253.50 175.51M245.65 172.25L252.15 178.76M248.90 170.91L248.90 180.11M252.15 172.25L245.65 178.76" stroke="#1b6fbe" stroke-width="2.2" fill="none"/>
<path d="M280.75 212.09L289.95 212.09M282.10 208.83L288.60 215.34M285.35 207.49L285.35 216.69M288.60 208.83L282.10 215.34" stroke="#1b6fbe" stroke-width="2.2" fill="none"/>
<path d="M317.20 242.77L326.40 242.77M318.55 239.51L325.05 246.02M321.80 238.17L321.80 247.37M325.05 239.51L318.55 246.02" stroke="#1b6fbe" stroke-width="2.2" fill="none"/>
<circle cx="66.65" cy="101.17" r="4.15" stroke="#d9531e" stroke-width="2.0" fill="none"/>
<circle cx="103.10" cy="100.54" r="4.15" stroke="#d9531e" stroke-width="2.0" fill="none"/>
<circle cx="139.55" cy="99.59" r="4.15" stroke="#d9531e" stroke-width="2.0" fill="none"/>
<circle cx="176.00" cy="97.23" r="4.15" stroke="#d9531e" stroke-width="2.0" fill="none"/>
<circle cx="212.45" cy="95.66" r="4.15" stroke="#d9531e" stroke-width="2.0" fill="none"/>
<circle cx="248.90" cy="97.23" r="4.15" stroke="#d9531e" stroke-width="2.0" fill="none"/>
<circle cx="285.35" cy="101.95" r="4.15" stroke="#d9531e" stroke-width="2.0" fill="none"/>
<circle cx="321.80" cy="114.85" r="4.15" stroke="#d9531e" stroke-width="2.0" fill="none"/>
<circle cx="358.25" cy="134.99" r="4.15" stroke="#d9531e" stroke-width="2.0" fill="none"/>
<circle cx="394.70" cy="160.72" r="4.15" stroke="#d9531e" stroke-width="2.0" fill="none"/>
<circle cx="431.15" cy="185.73" r="4.15" stroke="#d9531e" stroke-width="2.0" fill="none"/>
<circle cx="467.60" cy="209.33" r="4.15" stroke="#d9531e" stroke-width="2.0" fill="none"/>
<circle cx="504.05" cy="235.53" r="4.15" stroke="#d9531e" stroke-width="2.0" fill="none"/>
<circle cx="540.50" cy="258.50" r="4.15" stroke="#d9531e" stroke-width="2.0" fill="none"/>
<path d="M62.05 101.17L71.25 101.17M63.40 97.91L69.90 104.42M66.65 96.57L66.65 105.77M69.90 97.91L63.40 104.42" stroke="#d9531e" stroke-width="2.2" fill="none"/>
<path d="M98.50 98.81L107.70 98.81M99.85 95.55L106.35 102.06M103.10 94.21L103.10 103.41M106.35 95.55L99.85 102.06" stroke="#d9531e" stroke-width="2.2" fill="none"/>
<path d="M134.95 95.27L144.15 95.27M136.30 92.01L142.80 98.52M139.55 90.67L139.55 99.87M142.80 92.01L136.30 98.52" stroke="#d9531e" stroke-width="2.2" fill="none"/>
<path d="M171.40 90.31L180.60 90.31M172.75 87.06L179.25 93.56M176.00 85.71L176.00 94.91M179.25 87.06L172.75 93.56" stroke="#d9531e" stroke-width="2.2" fill="none"/>
<path d="M207.85 86.38L217.05 86.38M209.20 83.12L215.70 89.63M212.45 81.78L212.45 90.98M215.70 83.12L209.20 89.63" stroke="#d9531e" stroke-width="2.2" fill="none"/>
<path d="M244.30 90.15L253.50 90.15M245.65 86.90L252.15 93.41M248.90 85.55L248.90 94.75M252.15 86.90L245.65 93.41" stroke="#d9531e" stroke-width="2.2" fill="none"/>
<path d="M280.75 109.03L289.95 109.03M282.10 105.78L288.60 112.29M285.35 104.43L285.35 113.63M288.60 105.78L282.10 112.29" stroke="#d9531e" stroke-width="2.2" fill="none"/>
<path d="M317.20 133.81L326.40 133.81M318.55 130.56L325.05 137.07M321.80 129.21L321.80 138.41M325.05 130.56L318.55 137.07" stroke="#d9531e" stroke-width="2.2" fill="none"/>
<path d="M353.65 162.53L362.85 162.53M355.00 159.27L361.50 165.78M358.25 157.93L358.25 167.13M361.50 159.27L355.00 165.78" stroke="#d9531e" stroke-width="2.2" fill="none"/>
<path d="M390.10 190.06L399.30 190.06M391.45 186.81L397.95 193.31M394.70 185.46L394.70 194.66M397.95 186.81L391.45 193.31" stroke="#d9531e" stroke-width="2.2" fill="none"/>
<path d="M426.55 214.84L435.75 214.84M427.90 211.59L434.40 218.09M431.15 210.24L431.15 219.44M434.40 211.59L427.90 218.09" stroke="#d9531e" stroke-width="2.2" fill="none"/>
<path d="M463.00 239.38L472.20 239.38M464.35 236.13L470.85 242.64M467.60 234.78L467.60 243.98M470.85 236.13L464.35 242.64" stroke="#d9531e" stroke-width="2.2" fill="none"/>
<circle cx="66.65" cy="101.17" r="4.15" stroke="#2fab3f" stroke-width="2.0" fill="none"/>
<circle cx="103.10" cy="101.56" r="4.15" stroke="#2fab3f" stroke-width="2.0" fill="none"/>
<circle cx="139.55" cy="101.95" r="4.15" stroke="#2fab3f" stroke-width="2.0" fill="none"/>
<circle cx="176.00" cy="103.13" r="4.15" stroke="#2fab3f" stroke-width="2.0" fill="none"/>
<circle cx="212.45" cy="104.94" r="4.15" stroke="#2fab3f" stroke-width="2.0" fill="none"/>
<circle cx="248.90" cy="108.01" r="4.15" stroke="#2fab3f" stroke-width="2.0" fill="none"/>
<circle cx="285.35" cy="112.57" r="4.15" stroke="#2fab3f" stroke-width="2.0" fill="none"/>
<circle cx="321.80" cy="120.83" r="4.15" stroke="#2fab3f" stroke-width="2.0" fill="none"/>
<circle cx="358.25" cy="133.42" r="4.15" stroke="#2fab3f" stroke-width="2.0" fill="none"/>
<circle cx="394.70" cy="149.94" r="4.15" stroke="#2fab3f" stroke-width="2.0" fill="none"/>
<circle cx="431.15" cy="169.61" r="4.15" stroke="#2fab3f" stroke-width="2.0" fill="none"/>
<circle cx="467.60" cy="189.27" r="4.15" stroke="#2fab3f" stroke-width="2.0" fill="none"/>
<circle cx="504.05" cy="210.51" r="4.15" stroke="#2fab3f" stroke-width="2.0" fill="none"/>
<circle cx="540.50" cy="232.70" r="4.15" stroke="#2fab3f" stroke-width="2.0" fill="none"/>
<path d="M62.05 101.17L71.25 101.17M63.40 97.91L69.90 104.42M66.65 96.57L66.65 105.77M69.90 97.91L63.40 104.42" stroke="#2fab3f" stroke-width="2.2" fill="none"/>
<path d="M98.50 99.99L107.70 99.99M99.85 96.73L106.35 103.24M103.10 95.39L103.10 104.59M106.35 96.73L99.85 103.24" stroke="#2fab3f" stroke-width="2.2" fill="none"/>
<path d="M134.95 98.81L144.15 98.81M136.30 95.55L142.80 102.06M139.55 94.21L139.55 103.41M142.80 95.55L136.30 102.06" stroke="#2fab3f" stroke-width="2.2" fill="none"/>
<path d="M171.40 97.63L180.60 97.63M172.75 94.37L179.25 100.88M176.00 93.03L176.00 102.23M179.25 94.37L172.75 100.88" stroke="#2fab3f" stroke-width="2.2" fill="none"/>
<path d="M207.85 97.23L217.05 97.23M209.20 93.98L215.70 100.49M212.45 92.63L212.45 101.83M215.70 93.98L209.20 100.49" stroke="#2fab3f" stroke-width="2.2" fill="none"/>
<path d="M244.30 99.99L253.50 99.99M245.65 96.73L252.15 103.24M248.90 95.39L248.90 104.59M252.15 96.73L245.65 103.24" stroke="#2fab3f" stroke-width="2.2" fill="none"/>
<path d="M280.75 109.82L289.95 109.82M282.10 106.57L288.60 113.07M285.35 105.22L285.35 114.42M288.60 106.57L282.10 113.07" stroke="#2fab3f" stroke-width="2.2" fill="none"/>
<path d="M317.20 123.35L326.40 123.35M318.55 120.10L325.05 126.60M321.80 118.75L321.80 127.95M325.05 120.10L318.55 126.60" stroke="#2fab3f" stroke-width="2.2" fill="none"/>
<path d="M353.65 144.83L362.85 144.83M355.00 141.57L361.50 148.08M358.25 140.23L358.25 149.43M361.50 141.57L355.00 148.08" stroke="#2fab3f" stroke-width="2.2" fill="none"/>
<path d="M390.10 168.03L399.30 168.03M391.45 164.78L397.95 171.29M394.70 163.43L394.70 172.63M397.95 164.78L391.45 171.29" stroke="#2fab3f" stroke-width="2.2" fill="none"/>
<path d="M426.55 190.06L435.75 190.06M427.90 186.81L434.40 193.31M431.15 185.46L431.15 194.66M434.40 186.81L427.90 193.31" stroke="#2fab3f" stroke-width="2.2" fill="none"/>
<path d="M463.00 212.56L472.20 212.56M464.35 209.31L470.85 215.81M467.60 207.96L467.60 217.16M470.85 209.31L464.35 215.81" stroke="#2fab3f" stroke-width="2.2" fill="none"/>
<path d="M499.45 235.53L508.65 235.53M500.80 232.28L507.30 238.78M504.05 230.93L504.05 240.13M507.30 232.28L500.80 238.78" stroke="#2fab3f" stroke-width="2.2" fill="none"/>
<path d="M535.90 258.50L545.10 258.50M537.25 255.25L543.75 261.75M540.50 253.90L540.50 263.10M543.75 255.25L537.25 261.75" stroke="#2fab3f" stroke-width="2.2" fill="none"/>
<path d="M54.50 258.5v-4.9M54.50 22.5v4.9M115.25 258.5v-4.9M115.25 22.5v4.9M176.00 258.5v-4.9M176.00 22.5v4.9M236.75 258.5v-4.9M236.75 22.5v4.9M297.50 258.5v-4.9M297.50 22.5v4.9M358.25 258.5v-4.9M358.25 22.5v4.9M419.00 258.5v-4.9M419.00 22.5v4.9M479.75 258.5v-4.9M479.75 22.5v4.9M540.50 258.5v-4.9M540.50 22.5v4.9M54.5 258.50h4.9M540.5 258.50h-4.9M54.5 219.17h4.9M540.5 219.17h-4.9M54.5 179.83h4.9M540.5 179.83h-4.9M54.5 140.50h4.9M540.5 140.50h-4.9M54.5 101.17h4.9M540.5 101.17h-4.9M54.5 61.83h4.9M540.5 61.83h-4.9M54.5 22.50h4.9M540.5 22.50h-4.9" stroke="#7a7a7a" stroke-width="1" fill="none"/>
<rect x="54.5" y="22.5" width="486.0" height="236.0" stroke="#7a7a7a" stroke-width="1" fill="none"/>
<text x="53.20" y="278.1" font-size="15.3" fill="#404040" text-anchor="middle">0</text>
<text x="113.95" y="278.1" font-size="15.3" fill="#404040" text-anchor="middle">5</text>
<text x="174.70" y="278.1" font-size="15.3" fill="#404040" text-anchor="middle">10</text>
<text x="235.45" y="278.1" font-size="15.3" fill="#404040" text-anchor="middle">15</text>
<text x="296.20" y="278.1" font-size="15.3" fill="#404040" text-anchor="middle">20</text>
<text x="356.95" y="278.1" font-size="15.3" fill="#404040" text-anchor="middle">25</text>
<text x="417.70" y="278.1" font-size="15.3" fill="#404040" text-anchor="middle">30</text>
<text x="478.45" y="278.1" font-size="15.3" fill="#404040" text-anchor="middle">35</text>
<text x="539.20" y="278.1" font-size="15.3" fill="#404040" text-anchor="middle">40</text>
<text x="48.7" y="263.70" font-size="15.3" fill="#404040" text-anchor="end">−20</text>
<text x="48.7" y="224.37" font-size="15.3" fill="#404040" text-anchor="end">−15</text>
<text x="48.7" y="185.03" font-size="15.3" fill="#404040" text-anchor="end">−10</text>
<text x="48.7" y="145.70" font-size="15.3" fill="#404040" text-anchor="end">−5</text>
<text x="48.7" y="106.37" font-size="15.3" fill="#404040" text-anchor="end">0</text>
<text x="48.7" y="67.03" font-size="15.3" fill="#404040" text-anchor="end">5</text>
<text x="48.7" y="27.70" font-size="15.3" fill="#404040" text-anchor="end">10</text>
<text x="291.7" y="300.0" font-size="17" fill="#404040" text-anchor="middle">Frequency (GHz)</text>
<text transform="translate(15.9 144.5) rotate(-90)" font-size="17" fill="#404040" text-anchor="middle">S21 (dB)</text>
<text x="265.7" y="15.9" font-size="14.4" font-weight="bold" fill="#111111" text-anchor="middle">Normalized S21 magnitude response vs Frequency</text>
<rect x="364.5" y="31" width="168" height="60.6" fill="#ffffff" stroke="#666666" stroke-width="1"/>
<path d="M368.0 42.4H398.3" stroke="#1b6fbe" stroke-width="2.2"/>
<circle cx="383.00" cy="42.40" r="4.15" stroke="#1b6fbe" stroke-width="2.0" fill="none"/>
<text font-size="10.67" fill="#262626" y="46.00"><tspan x="401.10">I</tspan><tspan x="404.00" dy="4.8" font-size="8.4">b1</tspan><tspan x="417.80" dy="-4.8">27</tspan><tspan x="431.70" dy="-4.2" font-size="9.2">o</tspan><tspan x="437.30" dy="4.2">C</tspan></text>
<path d="M451.5 42.4H481.8" stroke="#1b6fbe" stroke-width="2.2"/>
<path d="M462.00 42.40L471.20 42.40M463.35 39.15L469.85 45.65M466.60 37.80L466.60 47.00M469.85 39.15L463.35 45.65" stroke="#1b6fbe" stroke-width="2.2" fill="none"/>
<text font-size="10.67" fill="#262626" y="46.00"><tspan x="484.60">I</tspan><tspan x="487.50" dy="4.8" font-size="8.4">b1</tspan><tspan x="501.30" dy="-4.8">70</tspan><tspan x="515.20" dy="-4.2" font-size="9.2">o</tspan><tspan x="520.80" dy="4.2">C</tspan></text>
<path d="M368.0 61.8H398.3" stroke="#d9531e" stroke-width="2.2"/>
<circle cx="383.00" cy="61.80" r="4.15" stroke="#d9531e" stroke-width="2.0" fill="none"/>
<text font-size="10.67" fill="#262626" y="65.40"><tspan x="401.10">I</tspan><tspan x="404.00" dy="4.8" font-size="8.4">b2</tspan><tspan x="417.80" dy="-4.8">27</tspan><tspan x="431.70" dy="-4.2" font-size="9.2">o</tspan><tspan x="437.30" dy="4.2">C</tspan></text>
<path d="M451.5 61.8H481.8" stroke="#d9531e" stroke-width="2.2"/>
<path d="M462.00 61.80L471.20 61.80M463.35 58.55L469.85 65.05M466.60 57.20L466.60 66.40M469.85 58.55L463.35 65.05" stroke="#d9531e" stroke-width="2.2" fill="none"/>
<text font-size="10.67" fill="#262626" y="65.40"><tspan x="484.60">I</tspan><tspan x="487.50" dy="4.8" font-size="8.4">b2</tspan><tspan x="501.30" dy="-4.8">70</tspan><tspan x="515.20" dy="-4.2" font-size="9.2">o</tspan><tspan x="520.80" dy="4.2">C</tspan></text>
<path d="M368.0 81.3H398.3" stroke="#2fab3f" stroke-width="2.2"/>
<circle cx="383.00" cy="81.30" r="4.15" stroke="#2fab3f" stroke-width="2.0" fill="none"/>
<text font-size="10.67" fill="#262626" y="84.90"><tspan x="401.10">I</tspan><tspan x="404.00" dy="4.8" font-size="8.4">b3</tspan><tspan x="417.80" dy="-4.8">27</tspan><tspan x="431.70" dy="-4.2" font-size="9.2">o</tspan><tspan x="437.30" dy="4.2">C</tspan></text>
<path d="M451.5 81.3H481.8" stroke="#2fab3f" stroke-width="2.2"/>
<path d="M462.00 81.30L471.20 81.30M463.35 78.05L469.85 84.55M466.60 76.70L466.60 85.90M469.85 78.05L463.35 84.55" stroke="#2fab3f" stroke-width="2.2" fill="none"/>
<text font-size="10.67" fill="#262626" y="84.90"><tspan x="484.60">I</tspan><tspan x="487.50" dy="4.8" font-size="8.4">b3</tspan><tspan x="501.30" dy="-4.8">70</tspan><tspan x="515.20" dy="-4.2" font-size="9.2">o</tspan><tspan x="520.80" dy="4.2">C</tspan></text>
</svg>
</body></html>
